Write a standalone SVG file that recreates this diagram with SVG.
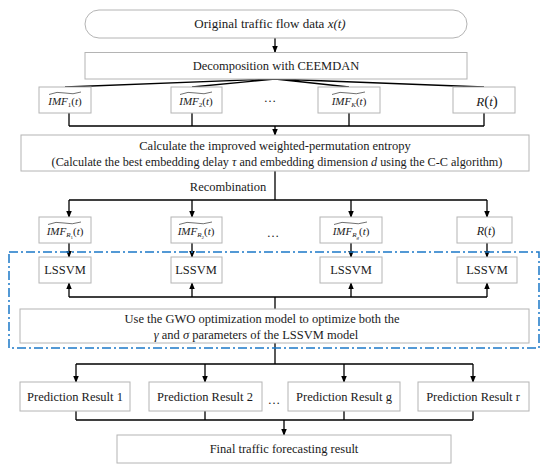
<svg xmlns="http://www.w3.org/2000/svg" width="550" height="465" viewBox="0 0 550 465">
<defs>
<marker id="ah" viewBox="0 0 8 8" refX="7" refY="4" markerWidth="7" markerHeight="7" markerUnits="userSpaceOnUse" orient="auto">
<path d="M0,0.8 L8,4 L0,7.2 z" fill="#000"/>
</marker>
<style>
.box{fill:#fff;stroke:#b4b4b4;stroke-width:1}
.t{font-family:"Liberation Serif","Times New Roman",serif;font-size:12.5px;fill:#1a1a1a;text-anchor:middle}
.s{font-size:12.2px}
.i{font-style:italic}
.imf{font-family:"Liberation Serif","Times New Roman",serif;font-size:11px;fill:#1a1a1a;text-anchor:middle}
.sub{font-size:7px}
.ssub{font-size:5px}
.til{fill:none;stroke:#333;stroke-width:0.7}
.c{fill:none;stroke:#000;stroke-width:1.3}
.a{fill:none;stroke:#000;stroke-width:1.3;marker-end:url(#ah)}
.blue{fill:none;stroke:#1b78c8;stroke-width:1.5;stroke-dasharray:9 3 2 3}
</style>
</defs>
<rect width="550" height="465" fill="#fff"/>

<g id="connectors">
<path class="a" d="M275,38 V52"/>
<path class="c" d="M275,79 L65,87 M275,79 L192,87 M275,79 L349,87 M275,79 L484,87"/>
<path class="c" d="M69,113 V126 M192,113 V126 M349,113 V126 M484,113 V126 M69,126 H484"/>
<path class="a" d="M275,126 V135"/>
<path class="c" d="M275,171 V200 M69,200 H487"/>
<path class="a" d="M69,200 V217"/>
<path class="a" d="M192,200 V217"/>
<path class="a" d="M351,200 V217"/>
<path class="a" d="M487,200 V217"/>
<path class="a" d="M69,243 V257"/>
<path class="a" d="M192,243 V257"/>
<path class="a" d="M351,243 V257"/>
<path class="a" d="M487,243 V257"/>
<path class="c" d="M275,309 V297 M69,297 H487"/>
<path class="a" d="M69,297 V283"/>
<path class="a" d="M192,297 V283"/>
<path class="a" d="M351,297 V283"/>
<path class="a" d="M487,297 V283"/>
<path class="c" d="M275,343 V364 M76,364 H473"/>
<path class="a" d="M76,364 V382"/>
<path class="a" d="M205,364 V382"/>
<path class="a" d="M344,364 V382"/>
<path class="a" d="M473,364 V382"/>
<path class="c" d="M76,411 V420 M205,411 V420 M344,411 V420 M473,411 V420 M76,420 H473"/>
<path class="a" d="M284,420 V435"/>
</g>

<g id="n-original">
<rect class="box" x="85" y="10" width="382" height="28" rx="14"/>
<text class="t" x="270" y="28" style="font-size:13px">Original traffic flow data <tspan class="i">x(t)</tspan></text>
</g>
<g id="n-decomp">
<rect class="box" x="85" y="52.5" width="382" height="26.5"/>
<text class="t" x="276" y="70">Decomposition with CEEMDAN</text>
</g>

<g id="n-imf1">
<rect class="box" x="39" y="87" width="52" height="26"/>
<path class="til" d="M49,94.5 Q57,91 65,93 T81,92"/>
<text class="imf" x="65" y="105"><tspan class="i">IMF</tspan><tspan class="sub" dy="2">1</tspan><tspan dy="-2">(</tspan><tspan class="i">t</tspan>)</text>
</g>
<g id="n-imf2">
<rect class="box" x="171" y="87" width="51" height="26"/>
<path class="til" d="M180,94.5 Q188,91 196,93 T212,92"/>
<text class="imf" x="196" y="105"><tspan class="i">IMF</tspan><tspan class="sub" dy="2">2</tspan><tspan dy="-2">(</tspan><tspan class="i">t</tspan>)</text>
</g>
<g id="n-dots1"><text class="t" x="270" y="102">…</text></g>
<g id="n-imfk">
<rect class="box" x="318" y="87" width="62" height="26"/>
<path class="til" d="M332,94.5 Q340,91 348,93 T365,92"/>
<text class="imf" x="349" y="105"><tspan class="i">IMF</tspan><tspan class="sub i" dy="2">K</tspan><tspan dy="-2">(</tspan><tspan class="i">t</tspan>)</text>
</g>
<g id="n-r1">
<rect class="box" x="453" y="87" width="62" height="26"/>
<text class="t" x="487" y="106" style="font-size:13px"><tspan class="i">R</tspan><tspan style="font-size:15px">(</tspan><tspan class="i">t</tspan><tspan style="font-size:15px">)</tspan></text>
</g>

<g id="n-calc">
<rect class="box" x="21" y="135" width="508" height="36"/>
<text class="t" x="275" y="150">Calculate the improved weighted-permutation entropy</text>
<text class="t s" x="277" y="166">(Calculate the best embedding delay <tspan class="i">τ</tspan> and embedding dimension <tspan class="i">d</tspan> using the C-C algorithm)</text>
</g>
<g id="n-recomb"><text class="t" x="228" y="191">Recombination</text></g>

<g id="n-imfr1">
<rect class="box" x="39" y="217" width="52" height="26"/>
<path class="til" d="M48,224.5 Q56,221 64,223 T81,222"/>
<text class="imf" x="65" y="235"><tspan class="i">IMF</tspan><tspan class="sub i" dy="2">R</tspan><tspan class="ssub" dy="1.5">1</tspan><tspan dy="-3.5">(</tspan><tspan class="i">t</tspan>)</text>
</g>
<g id="n-imfr2">
<rect class="box" x="171" y="217" width="51" height="26"/>
<path class="til" d="M179,224.5 Q187,221 195,223 T212,222"/>
<text class="imf" x="196" y="235"><tspan class="i">IMF</tspan><tspan class="sub i" dy="2">R</tspan><tspan class="ssub" dy="1.5">2</tspan><tspan dy="-3.5">(</tspan><tspan class="i">t</tspan>)</text>
</g>
<g id="n-dots2"><text class="t" x="273" y="237">…</text></g>
<g id="n-imfrg">
<rect class="box" x="320" y="217" width="62" height="26"/>
<path class="til" d="M334,224.5 Q342,221 350,223 T367,222"/>
<text class="imf" x="351" y="235"><tspan class="i">IMF</tspan><tspan class="sub i" dy="2">R</tspan><tspan class="ssub i" dy="1.5">g</tspan><tspan dy="-3.5">(</tspan><tspan class="i">t</tspan>)</text>
</g>
<g id="n-r2">
<rect class="box" x="457" y="217" width="55" height="26"/>
<text class="t" x="486" y="235" style="font-size:12px"><tspan class="i">R</tspan>(<tspan class="i">t</tspan>)</text>
</g>

<g id="n-gwo-group">
<rect class="blue" x="9" y="252" width="530" height="96"/>
</g>
<g id="n-lssvm1"><rect class="box" x="39" y="257" width="52" height="26"/><text class="t" x="65" y="274">LSSVM</text></g>
<g id="n-lssvm2"><rect class="box" x="171" y="257" width="51" height="26"/><text class="t" x="196" y="274">LSSVM</text></g>
<g id="n-lssvm3"><rect class="box" x="320" y="257" width="62" height="26"/><text class="t" x="351" y="274">LSSVM</text></g>
<g id="n-lssvm4"><rect class="box" x="457" y="257" width="60" height="26"/><text class="t" x="487" y="274">LSSVM</text></g>

<g id="n-gwo">
<rect class="box" x="20" y="309" width="509" height="34"/>
<text class="t" x="262" y="323">Use the GWO optimization model to optimize both the</text>
<text class="t" x="256" y="339"><tspan class="i">γ</tspan> and <tspan class="i">σ</tspan> parameters of the LSSVM model</text>
</g>

<g id="n-pred1"><rect class="box" x="20" y="382" width="110" height="29"/><text class="t" x="75" y="401">Prediction Result 1</text></g>
<g id="n-pred2"><rect class="box" x="149" y="382" width="113" height="29"/><text class="t" x="205" y="401">Prediction Result 2</text></g>
<g id="n-dots3"><text class="t" x="274" y="404">…</text></g>
<g id="n-predg"><rect class="box" x="288" y="382" width="112" height="29"/><text class="t" x="344" y="401">Prediction Result g</text></g>
<g id="n-predr"><rect class="box" x="418" y="382" width="111" height="29"/><text class="t" x="473" y="401">Prediction Result r</text></g>

<g id="n-final"><rect class="box" x="117" y="435" width="334" height="28"/><text class="t" x="284" y="453">Final traffic forecasting result</text></g>
</svg>
